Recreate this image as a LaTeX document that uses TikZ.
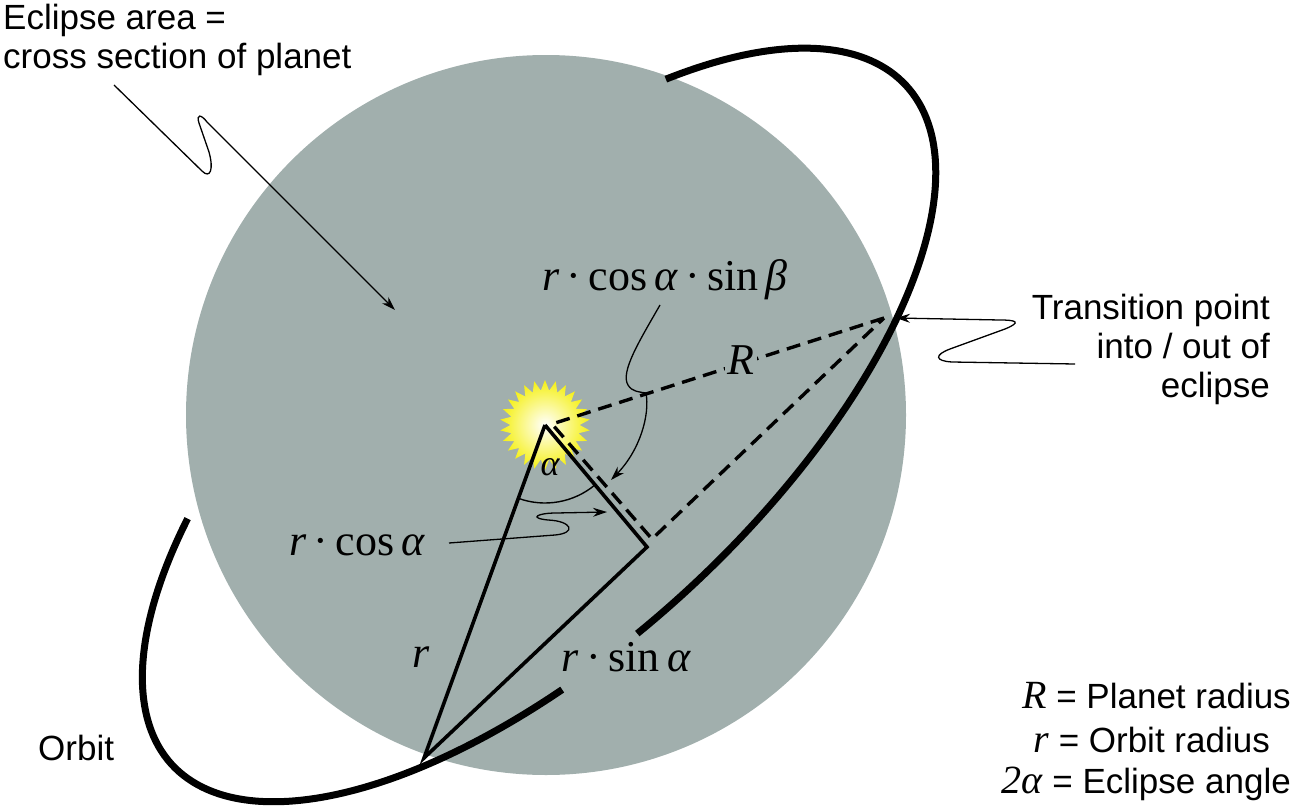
\documentclass[tikz,border=0pt]{standalone}
\usepackage{fontspec}
\setmainfont{Liberation Sans}
\newfontfamily\tms{Liberation Serif}
\usetikzlibrary{shapes.geometric,arrows.meta,calc}
\definecolor{planet}{RGB}{161,175,173}
\definecolor{sunyel}{RGB}{245,240,20}
\newcommand{\mi}[1]{{\itshape #1}}
\begin{document}
\begin{tikzpicture}[x=1pt,y=-1pt,
  orbitline/.style={line width=7pt,line cap=butt},
  solidline/.style={line width=3.6pt},
  dashline/.style={line width=3.4pt,dash pattern=on 14pt off 8pt},
  leader/.style={line width=1.3pt,-{Stealth[length=14pt,width=9pt]}},
  sans/.style={font=\fontsize{35}{39}\selectfont},
  mathlab/.style={font=\tms\fontsize{44}{46}\selectfont,inner sep=0}]
\useasboundingbox (0,0) rectangle (1299,811);
% planet
\fill[planet] (546,415) circle[radius=360];
% orbit (projected circle)
\begin{scope}[shift={(539,425)},rotate=42.8]
\draw[orbitline] (-49:500 and 222) arc[start angle=-49,end angle=98,x radius=500,y radius=222];
\draw[orbitline] (109:500 and 222) arc[start angle=109,end angle=230,x radius=500,y radius=222];
\end{scope}
% key points
\coordinate (S) at (545,425);
\coordinate (C) at (647,547);
\coordinate (T) at (884,318);
\coordinate (B) at (424,758);
\coordinate (D1) at (552,424);
\coordinate (D2) at (652,539);
% sun
\node[star,star points=26,star point ratio=1.3,minimum size=90pt,inner sep=0,
  shade,inner color=white,outer color=sunyel] (sun) at (S) {};
% lines
\draw[solidline,line join=miter] (S) -- (C) -- (B) -- (S);
\draw[dashline] (T) -- (D1) -- (D2) -- (T);
% angle arc
\draw[line width=1.4pt] ($(S)+(50:78)$) arc[start angle=50,end angle=110,radius=78];
% labels
\node[mathlab] (lcs) at (665,280) {\mi{r}\,·\,cos\,\mi{α}\,·\,sin\,\mi{β}};
\node[mathlab,fill=planet,inner sep=3pt] (lR) at (741,360) {\mi{R}};
\node[font=\tms\itshape\fontsize{36}{36}\selectfont,inner sep=0] (la) at (550,467) {α};
\node[mathlab] (lc) at (357,545) {\mi{r}\,·\,cos\,\mi{α}};
\node[mathlab] (lr) at (421,657) {\mi{r}};
\node[mathlab] (lsin) at (626,657) {\mi{r}\,·\,sin\,\mi{α}};
% leaders
\draw[leader] (660,305) .. controls (640,340) and (620,372) .. (628,385) .. controls (632,392) and (640,392) .. (646,393) .. controls (650,415) and (640,450) .. (611,480);
\draw[leader] (449,543) -- (555,535) .. controls (577,533) and (572,521) .. (548,520) .. controls (528,518) and (538,513) .. (556,513) -- (607,512);
\draw[leader] (114,85) -- (202,171) .. controls (210,179) and (214,170) .. (209,152) -- (199,123) .. controls (196,114) and (201,114) .. (207,122) -- (395,310);
\draw[leader] (1075,364) -- (952,362) .. controls (935,361) and (934,355) .. (950,349) -- (1005,329) .. controls (1022,322) and (1016,320) .. (1000,320) -- (896,318);
% texts
\node[sans,anchor=north west,align=left,inner sep=0] (ecl) at (3,4) {Eclipse area =\\cross section of planet};
\node[sans,anchor=east,align=right,inner sep=0] (trans) at (1270,349) {Transition point\\into / out of\\eclipse};
\node[sans,anchor=west,inner sep=0] (orb) at (38,748) {Orbit};
\node[sans,anchor=east,inner sep=0] (k1) at (1291,696) {{\tms\itshape\fontsize{40}{40}\selectfont R} = Planet radius};
\node[sans,anchor=east,inner sep=0] (k2) at (1270,740) {{\tms\itshape\fontsize{40}{40}\selectfont r} = Orbit radius};
\node[sans,anchor=east,inner sep=0] (k3) at (1291,784) {{\tms\itshape\fontsize{40}{40}\selectfont 2α} = Eclipse angle};
\end{tikzpicture}
\end{document}
